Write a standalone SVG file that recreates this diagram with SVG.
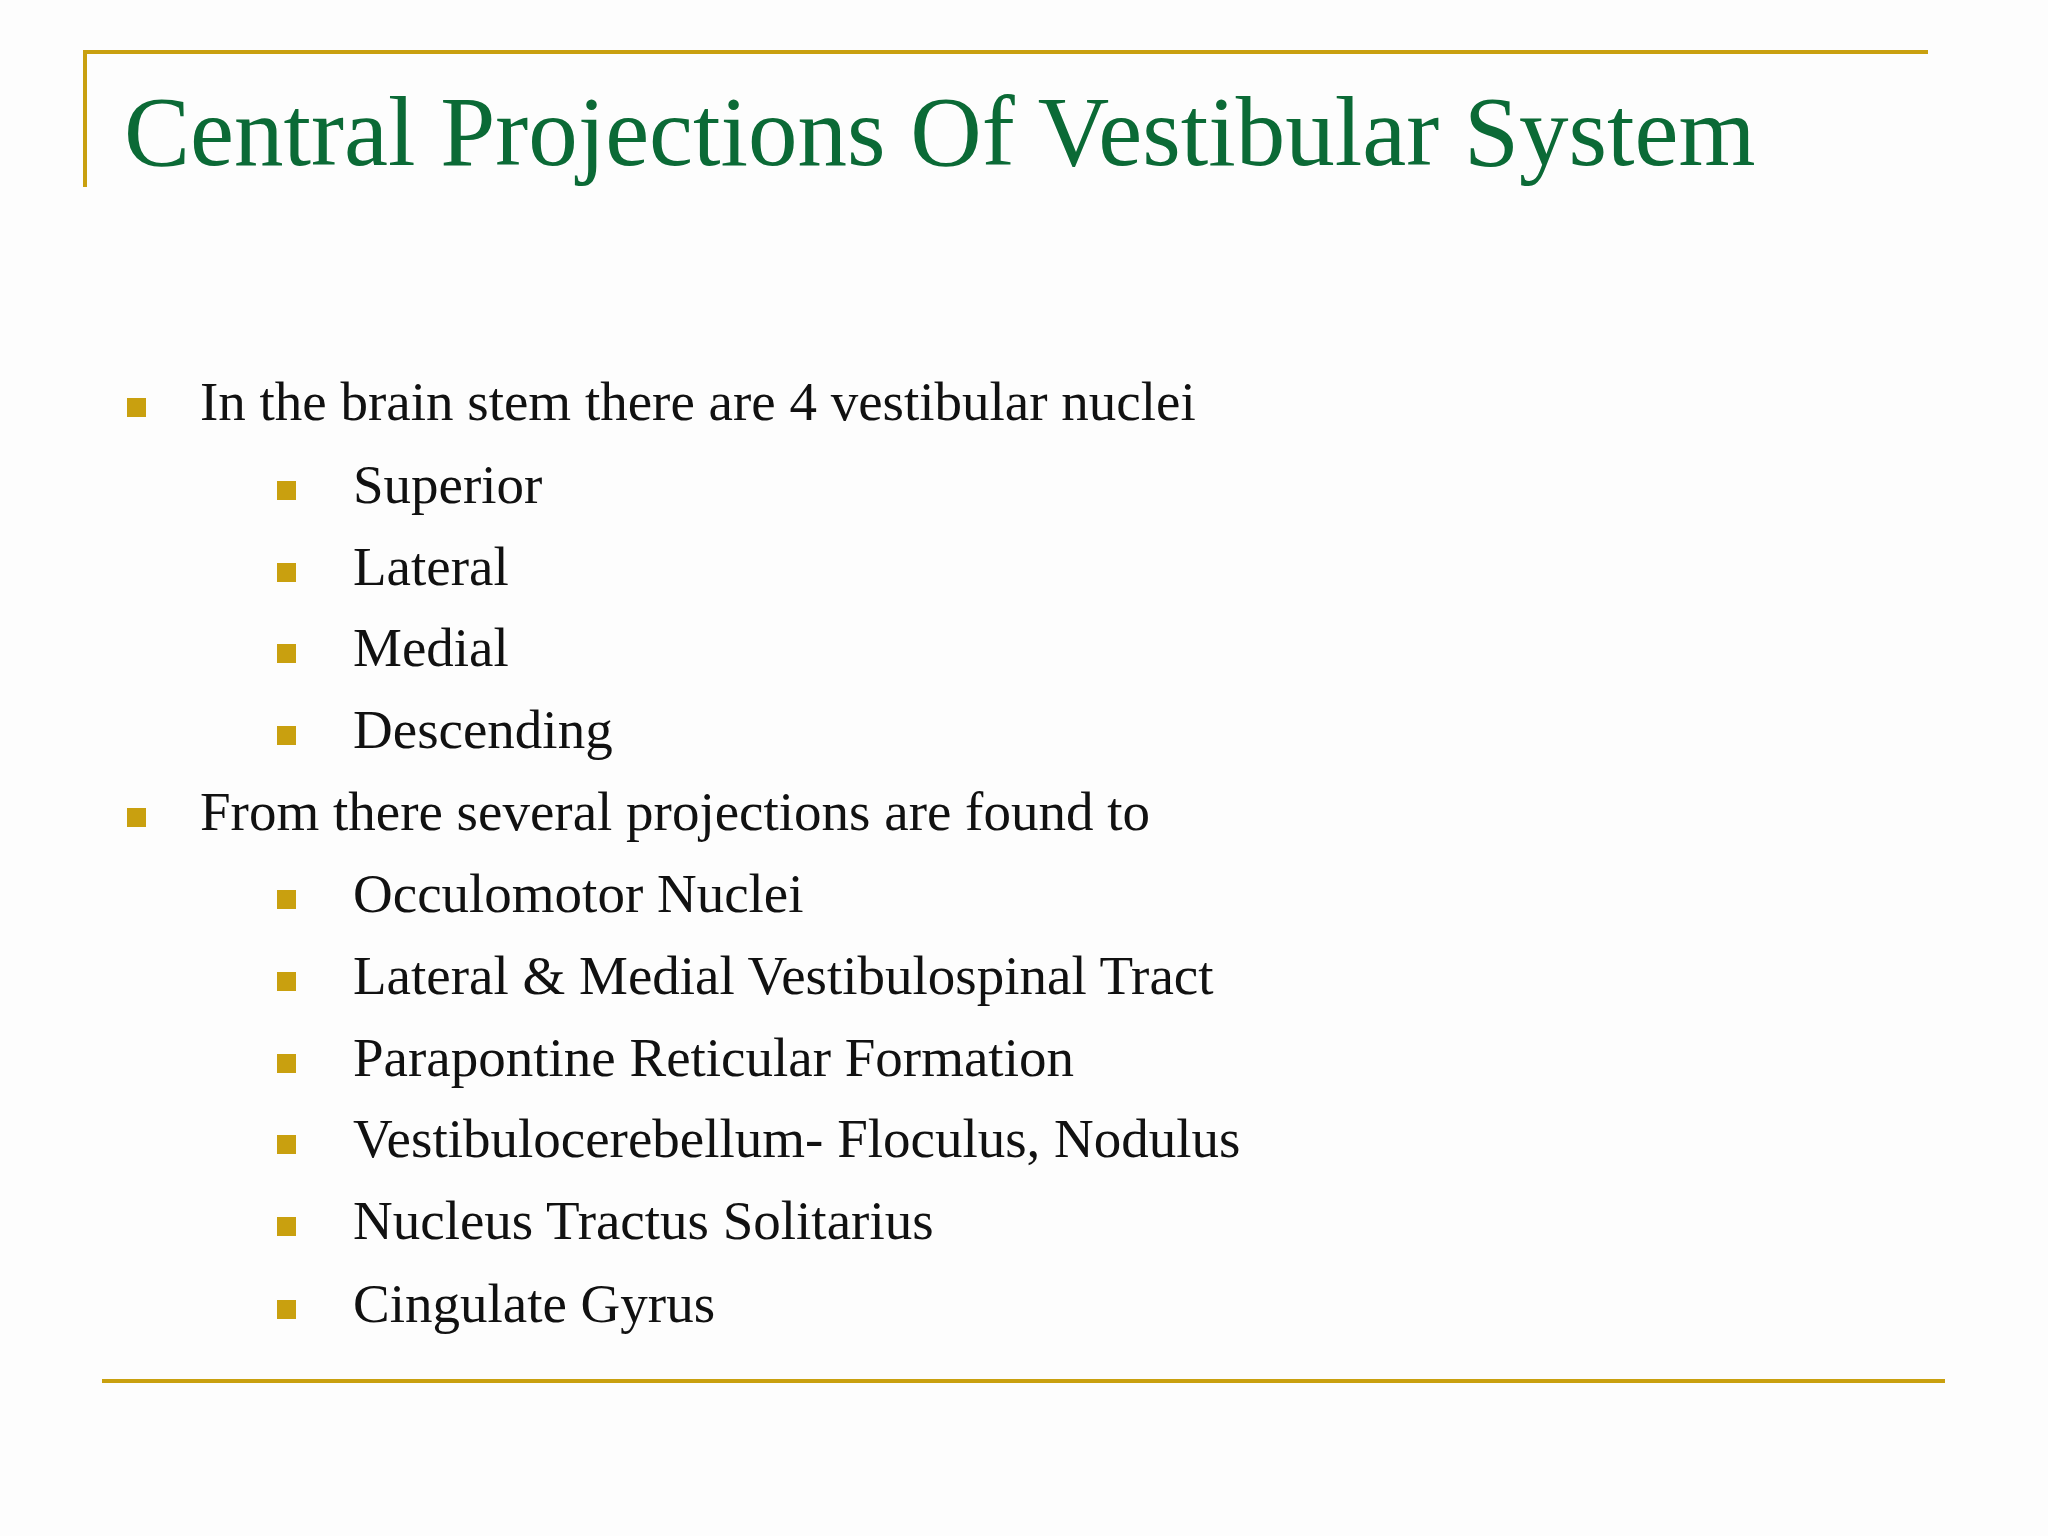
<svg xmlns="http://www.w3.org/2000/svg" width="2048" height="1536" viewBox="0 0 2048 1536">
<style>
.t{font-family:"Liberation Serif",serif;font-size:55px;fill:#111}
.b{fill:#c9a00f}
.ln{stroke:#c9a00f;stroke-width:4;fill:none}
</style>
<rect width="2048" height="1536" fill="#fdfdfd"/>
<g id="frame">
<path class="ln" d="M85 187V52H1928"/>
<path class="ln" d="M102 1381H1945"/>
</g>
<g id="title"><text x="124" y="165" font-family="Liberation Serif,serif" font-size="99" fill="#0b6a36">Central Projections Of Vestibular System</text></g>
<g id="bullets">
<rect class="b" x="127" y="398" width="19" height="19"/><text class="t" x="200" y="420">In the brain stem there are 4 vestibular nuclei</text>
<rect class="b" x="277" y="481" width="19" height="19"/><text class="t" x="353" y="503">Superior</text>
<rect class="b" x="277" y="563" width="19" height="19"/><text class="t" x="353" y="585">Lateral</text>
<rect class="b" x="277" y="644" width="19" height="19"/><text class="t" x="353" y="666">Medial</text>
<rect class="b" x="277" y="726" width="19" height="19"/><text class="t" x="353" y="748">Descending</text>
<rect class="b" x="127" y="808" width="19" height="19"/><text class="t" x="200" y="830">From there several projections are found to</text>
<rect class="b" x="277" y="890" width="19" height="19"/><text class="t" x="353" y="912">Occulomotor Nuclei</text>
<rect class="b" x="277" y="972" width="19" height="19"/><text class="t" x="353" y="994">Lateral &amp; Medial Vestibulospinal Tract</text>
<rect class="b" x="277" y="1054" width="19" height="19"/><text class="t" x="353" y="1076">Parapontine Reticular Formation</text>
<rect class="b" x="277" y="1135" width="19" height="19"/><text class="t" x="353" y="1157">Vestibulocerebellum- Floculus, Nodulus</text>
<rect class="b" x="277" y="1217" width="19" height="19"/><text class="t" x="353" y="1239">Nucleus Tractus Solitarius</text>
<rect class="b" x="277" y="1300" width="19" height="19"/><text class="t" x="353" y="1322">Cingulate Gyrus</text>
</g>
</svg>
